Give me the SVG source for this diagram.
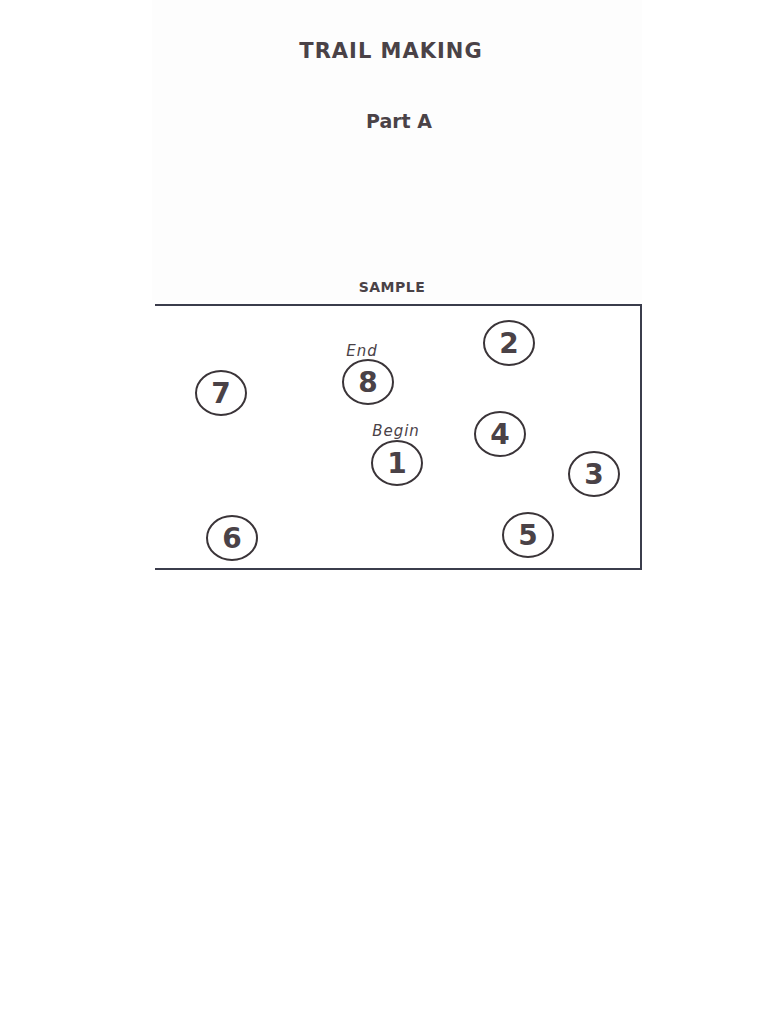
<svg xmlns="http://www.w3.org/2000/svg" width="768" height="1024" viewBox="0 0 768 1024">
<style>
.t{font-family:"DejaVu Sans","Liberation Sans",sans-serif;fill:#4a4247;text-anchor:middle}
.title{font-size:21px;font-weight:bold;letter-spacing:1px}
.sub{font-size:19px;font-weight:bold}
.samp{font-size:14px;font-weight:bold;letter-spacing:0.5px}
.lbl{font-size:15px;font-style:italic;letter-spacing:1px}
.num{font-size:28px;font-weight:bold}
.ring{fill:none;stroke:#3a3438;stroke-width:2}
.frame{fill:none;stroke:#3b3d4c;stroke-width:2}
</style>
<rect x="0" y="0" width="768" height="1024" fill="#ffffff"/>
<rect x="152" y="0" width="490" height="300" fill="#fdfdfd"/>
<text class="t title" x="391" y="58">TRAIL MAKING</text>
<text class="t sub" x="399" y="128">Part A</text>
<text class="t samp" x="392" y="292">SAMPLE</text>
<g id="frame"><polyline class="frame" points="155,305 641,305 641,569 155,569"/></g>
<g id="connectors"></g>
<g id="n1"><ellipse class="ring" cx="397" cy="463" rx="25" ry="22"/><text class="t num" x="397" y="473">1</text><text class="t lbl" x="396" y="436">Begin</text></g>
<g id="n2"><ellipse class="ring" cx="509" cy="343" rx="25" ry="22"/><text class="t num" x="509" y="353">2</text></g>
<g id="n3"><ellipse class="ring" cx="594" cy="474" rx="25" ry="22"/><text class="t num" x="594" y="484">3</text></g>
<g id="n4"><ellipse class="ring" cx="500" cy="434" rx="25" ry="22"/><text class="t num" x="500" y="444">4</text></g>
<g id="n5"><ellipse class="ring" cx="528" cy="535" rx="25" ry="22"/><text class="t num" x="528" y="545">5</text></g>
<g id="n6"><ellipse class="ring" cx="232" cy="538" rx="25" ry="22"/><text class="t num" x="232" y="548">6</text></g>
<g id="n7"><ellipse class="ring" cx="221" cy="393" rx="25" ry="22"/><text class="t num" x="221" y="403">7</text></g>
<g id="n8"><ellipse class="ring" cx="368" cy="382" rx="25" ry="22"/><text class="t num" x="368" y="392">8</text><text class="t lbl" x="362" y="356">End</text></g>
</svg>
